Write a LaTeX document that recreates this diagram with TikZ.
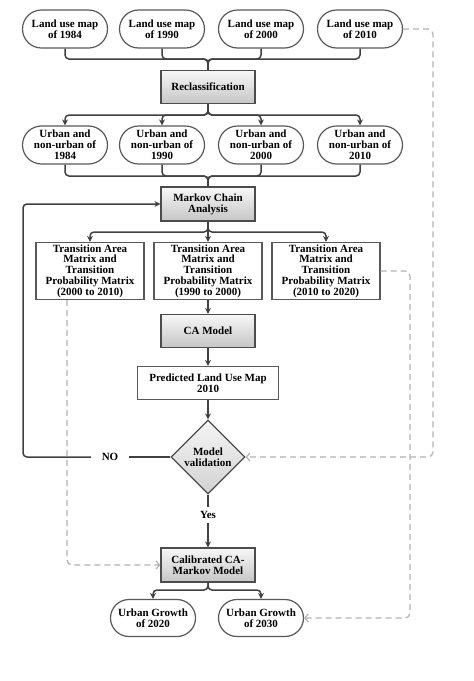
\documentclass[tikz,border=0pt]{standalone}
\usepackage{fontspec}
\setmainfont{Liberation Serif}
\usetikzlibrary{shapes,arrows,arrows.meta,positioning}

\begin{document}
\begin{tikzpicture}[
    x=1pt, y=-1pt,
    txt/.style={font=\bfseries\fontsize{11}{10.8}\selectfont},
    pill_node/.style={rounded rectangle, draw=black!65, line width=1.2pt, fill=white, minimum width=87pt, minimum height=38pt, inner sep=1pt, align=center, txt},
    proc_node/.style={rectangle, draw=black!70, line width=1.2pt, top color=gray!6, bottom color=gray!45, minimum width=94pt, minimum height=34pt, inner sep=1pt, align=center, txt},
    box_node/.style={rectangle, draw=black!65, line width=1.2pt, fill=white, inner sep=1pt, align=center, txt},
    decision_node/.style={diamond, draw=black!70, line width=1.2pt, top color=gray!8, bottom color=gray!35, minimum width=74pt, minimum height=74pt, inner sep=0pt, align=center, txt},
    label_node/.style={inner ysep=4pt, inner xsep=10.5pt, txt},
    bus/.style={draw=black!75, line width=1.5pt, rounded corners=4pt},
    arrow/.style={bus, -{Stealth[length=6pt,width=6pt,inset=2pt]}},
    dash_arrow/.style={draw=gray!60, line width=1.2pt, dash pattern=on 6pt off 4pt, rounded corners=5pt, -{Straight Barb[length=3.5pt,width=8pt]}}
]
\useasboundingbox (0,0) rectangle (474,681);

% Input land use maps
\node[pill_node] (map1984) at (65,29) {Land use map\\of 1984};
\node[pill_node] (map1990) at (162,29) {Land use map\\of 1990};
\node[pill_node] (map2000) at (261,29) {Land use map\\of 2000};
\node[pill_node] (map2010) at (360,29) {Land use map\\of 2010};

\node[proc_node, minimum height=33pt] (reclass) at (208,87) {Reclassification};

% Urban / non-urban maps
\node[pill_node] (urb1984) at (65,145) {Urban and\\non-urban of\\1984};
\node[pill_node] (urb1990) at (162,145) {Urban and\\non-urban of\\1990};
\node[pill_node] (urb2000) at (261,145) {Urban and\\non-urban of\\2000};
\node[pill_node] (urb2010) at (360,145) {Urban and\\non-urban of\\2010};

\node[proc_node] (markov) at (208,204) {Markov Chain\\Analysis};

% Transition matrices
\node[box_node, minimum width=108pt, minimum height=57pt] (trans1) at (90,271) {Transition Area\\Matrix and\\Transition\\Probability Matrix\\(2000 to 2010)};
\node[box_node, minimum width=108pt, minimum height=57pt] (trans2) at (208,271) {Transition Area\\Matrix and\\Transition\\Probability Matrix\\(1990 to 2000)};
\node[box_node, minimum width=108pt, minimum height=57pt] (trans3) at (326,271) {Transition Area\\Matrix and\\Transition\\Probability Matrix\\(2010 to 2020)};

\node[proc_node, minimum height=33pt] (camodel) at (208,331) {CA Model};
\node[box_node, minimum width=141pt, minimum height=33pt] (predicted) at (208,383) {Predicted Land Use Map\\2010};
\node[decision_node] (validation) at (208,457) {Model\\validation};

\node[label_node] (no) at (110,457) {NO};
\node[label_node] (yes) at (208,515) {Yes};

\node[proc_node] (calibrated) at (208,565) {Calibrated CA-\\Markov Model};

% Outputs
\node[pill_node, minimum height=37pt] (grow2020) at (153,618) {Urban Growth\\of 2020};
\node[pill_node, minimum height=37pt] (grow2030) at (261,618) {Urban Growth\\of 2030};

% Junction points
\coordinate (j_maps) at (208,59);
\coordinate (j_reclass) at (208,115);
\coordinate (j_urb) at (208,176);
\coordinate (j_markov) at (208,232);
\coordinate (j_calib) at (208,590);
\coordinate (back) at (23,457);
\coordinate (dash_r) at (433,457);
\coordinate (dash_m) at (410,618);
\coordinate (dash_l) at (67,565);

% Solid connectors
\foreach \n in {map1984,map1990,map2000,map2010}
    \draw[bus] (\n.south) |- (j_maps) -- (reclass.north);
\foreach \n in {urb1984,urb1990,urb2000,urb2010}
    \draw[arrow] (reclass.south) -- (j_reclass) -| (\n.north);
\foreach \n in {urb1984,urb1990,urb2000,urb2010}
    \draw[bus] (\n.south) |- (j_urb) -- (markov.north);
\foreach \n in {trans1,trans2,trans3}
    \draw[arrow] (markov.south) -- (j_markov) -| (\n.north);
\draw[arrow] (trans2.south) -- (camodel.north);
\draw[arrow] (camodel.south) -- (predicted.north);
\draw[arrow] (predicted.south) -- (validation.north);
\draw[bus] (validation.west) -- (no.east);
\draw[arrow] (no.west) -- (back) |- (markov.west);
\draw[bus] (validation.south) -- (yes.north);
\draw[arrow] (yes.south) -- (calibrated.north);
\foreach \n in {grow2020,grow2030}
    \draw[arrow] (calibrated.south) -- (j_calib) -| (\n.north);

% Dashed connectors
\draw[dash_arrow] (map2010.east) -| (dash_r) -- (validation.east);
\draw[dash_arrow] (trans3.east) -| (dash_m) -- (grow2030.east);
\draw[dash_arrow] (dash_l |- trans1.south) |- (calibrated.west);

\end{tikzpicture}
\end{document}
